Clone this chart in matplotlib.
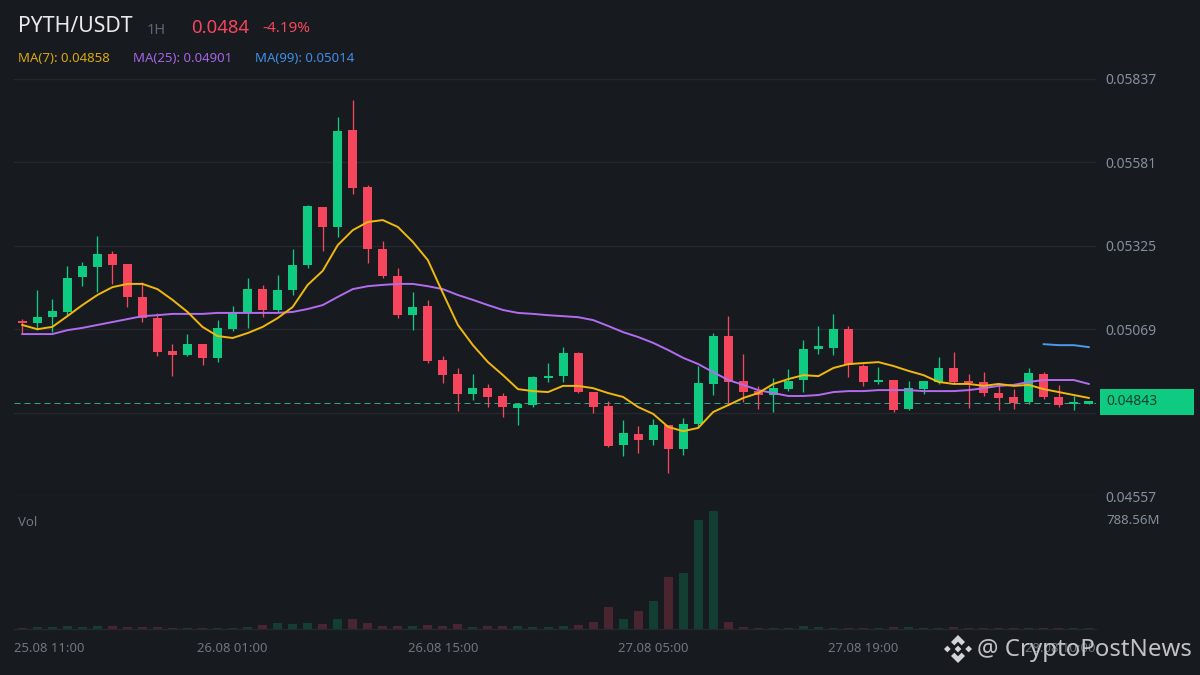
"""PYTH/USDT 1H candlestick chart with moving averages and volume"""
import matplotlib
matplotlib.use('Agg')  # Use non-GUI backend
import matplotlib.pyplot as plt
from matplotlib.patches import Polygon, Rectangle

opens = [0.05094, 0.05088, 0.05106, 0.05122, 0.05229, 0.05260, 0.05300, 0.05269, 0.05168, 0.05103, 0.05002, 0.04990,
         0.05023, 0.04981, 0.05069, 0.05119, 0.05192, 0.05128, 0.05189, 0.05266, 0.05444, 0.05383, 0.05680, 0.05505,
         0.05315, 0.05232, 0.05112, 0.05140, 0.04974, 0.04931, 0.04870, 0.04888, 0.04864, 0.04827, 0.04836, 0.04919,
         0.04925, 0.04996, 0.04876, 0.04833, 0.04713, 0.04747, 0.04729, 0.04775, 0.04701, 0.04778, 0.04901, 0.05048,
         0.04910, 0.04879, 0.04867, 0.04885, 0.04913, 0.05008, 0.05011, 0.05069, 0.04956, 0.04907, 0.04913, 0.04824,
         0.04885, 0.04907, 0.04950, 0.04910, 0.04907, 0.04873, 0.04861, 0.04845, 0.04931, 0.04861, 0.04839, 0.04839]
highs = [0.05100, 0.05189, 0.05162, 0.05263, 0.05275, 0.05355, 0.05309, 0.05269, 0.05214, 0.05119, 0.05023, 0.05054,
         0.05023, 0.05097, 0.05140, 0.05226, 0.05205, 0.05235, 0.05315, 0.05450, 0.05444, 0.05720, 0.05773, 0.05511,
         0.05340, 0.05257, 0.05183, 0.05159, 0.04987, 0.04950, 0.04931, 0.04901, 0.04873, 0.04842, 0.04925, 0.04965,
         0.05014, 0.04999, 0.04876, 0.04848, 0.04790, 0.04772, 0.04793, 0.04775, 0.04796, 0.04956, 0.05057, 0.05109,
         0.04993, 0.04895, 0.04919, 0.04947, 0.05036, 0.05079, 0.05116, 0.05079, 0.04962, 0.04953, 0.04913, 0.04910,
         0.04910, 0.04984, 0.04999, 0.04931, 0.04937, 0.04898, 0.04885, 0.04950, 0.04937, 0.04898, 0.04864, 0.04848]
lows = [0.05054, 0.05066, 0.05060, 0.05112, 0.05201, 0.05183, 0.05208, 0.05137, 0.05091, 0.04987, 0.04925, 0.04987,
        0.04959, 0.04968, 0.05063, 0.05073, 0.05106, 0.05122, 0.05174, 0.05257, 0.05309, 0.05352, 0.05484, 0.05272,
        0.05226, 0.05103, 0.05066, 0.04965, 0.04904, 0.04818, 0.04852, 0.04830, 0.04799, 0.04775, 0.04830, 0.04907,
        0.04907, 0.04873, 0.04812, 0.04707, 0.04680, 0.04689, 0.04713, 0.04627, 0.04683, 0.04769, 0.04867, 0.04839,
        0.04845, 0.04824, 0.04815, 0.04879, 0.04876, 0.04993, 0.04990, 0.04922, 0.04895, 0.04901, 0.04815, 0.04821,
        0.04870, 0.04901, 0.04901, 0.04827, 0.04864, 0.04821, 0.04824, 0.04839, 0.04855, 0.04830, 0.04821, 0.04839]
closes = [0.05088, 0.05106, 0.05125, 0.05226, 0.05263, 0.05300, 0.05266, 0.05168, 0.05103, 0.04999, 0.04990, 0.05023,
          0.04981, 0.05073, 0.05119, 0.05192, 0.05128, 0.05189, 0.05266, 0.05447, 0.05383, 0.05677, 0.05502, 0.05315,
          0.05232, 0.05112, 0.05137, 0.04971, 0.04928, 0.04870, 0.04888, 0.04861, 0.04830, 0.04839, 0.04922, 0.04925,
          0.04996, 0.04876, 0.04830, 0.04710, 0.04750, 0.04729, 0.04775, 0.04701, 0.04778, 0.04904, 0.05048, 0.04907,
          0.04876, 0.04867, 0.04888, 0.04910, 0.05008, 0.05017, 0.05069, 0.04959, 0.04907, 0.04913, 0.04821, 0.04888,
          0.04910, 0.04950, 0.04907, 0.04904, 0.04873, 0.04858, 0.04842, 0.04934, 0.04861, 0.04836, 0.04845, 0.04848]
volumes = [9, 15, 15, 22, 15, 22, 22, 15, 15, 15, 9, 9,
           9, 9, 9, 15, 29, 42, 35, 42, 35, 69, 69, 42,
           22, 22, 22, 29, 22, 35, 15, 22, 22, 22, 15, 15,
           22, 29, 49, 149, 69, 122, 189, 349, 376, 730, 788.56, 49,
           15, 9, 7, 7, 22, 15, 9, 9, 9, 9, 15, 15,
           9, 9, 15, 9, 9, 9, 9, 9, 9, 9, 9, 9]

ma7 = [0.05082, 0.05069, 0.05076, 0.05109, 0.05143, 0.05174, 0.05198, 0.05208, 0.05208, 0.05192, 0.05159, 0.05122,
       0.05076, 0.05048, 0.05042, 0.05057, 0.05076, 0.05103, 0.05137, 0.05205, 0.05248, 0.05327, 0.05373, 0.05398,
       0.05404, 0.05383, 0.05337, 0.05281, 0.05180, 0.05082, 0.05020, 0.04968, 0.04928, 0.04885, 0.04879, 0.04876,
       0.04895, 0.04895, 0.04888, 0.04873, 0.04861, 0.04830, 0.04809, 0.04769, 0.04756, 0.04766, 0.04815, 0.04836,
       0.04858, 0.04873, 0.04901, 0.04916, 0.04928, 0.04925, 0.04950, 0.04962, 0.04965, 0.04968, 0.04956, 0.04941,
       0.04928, 0.04907, 0.04901, 0.04901, 0.04895, 0.04901, 0.04895, 0.04898, 0.04885, 0.04876, 0.04867, 0.04858]
ma25 = [0.05054, 0.05054, 0.05054, 0.05066, 0.05073, 0.05082, 0.05091, 0.05100, 0.05109, 0.05112, 0.05116, 0.05116,
        0.05116, 0.05119, 0.05119, 0.05119, 0.05119, 0.05119, 0.05122, 0.05131, 0.05143, 0.05168, 0.05192, 0.05201,
        0.05205, 0.05208, 0.05208, 0.05201, 0.05192, 0.05174, 0.05159, 0.05143, 0.05128, 0.05119, 0.05116, 0.05112,
        0.05109, 0.05106, 0.05097, 0.05079, 0.05060, 0.05045, 0.05027, 0.05005, 0.04981, 0.04962, 0.04937, 0.04913,
        0.04898, 0.04882, 0.04873, 0.04864, 0.04864, 0.04867, 0.04876, 0.04879, 0.04879, 0.04882, 0.04882, 0.04882,
        0.04879, 0.04879, 0.04879, 0.04882, 0.04888, 0.04895, 0.04898, 0.04907, 0.04913, 0.04913, 0.04913, 0.04901]
ma99 = [0.05023, 0.05020, 0.05020, 0.05014]
ma99_idx = [68, 69, 70, 71]

price_ticks = [0.05837, 0.05581, 0.05325, 0.05069, 0.04813, 0.04557]
price_labels = ['0.05837', '0.05581', '0.05325', '0.05069', '', '0.04557']
last_price = 0.04843
date_ticks = [-0.55, 14, 28, 42, 56, 71.45]
date_labels = ['25.08 11:00', '26.08 01:00', '26.08 15:00', '27.08 05:00', '27.08 19:00', '28.08 10:00']

BG = '#171a1f'
GRID = '#25282e'
UP = '#0ecb81'
DOWN = '#f6465d'
UP_VOL = '#123f31'
DOWN_VOL = '#4a2530'
MUTED = '#848e9c'
FONT = 'Noto Sans'
W, H = 1200, 675

plt.rcParams['font.family'] = [FONT, 'DejaVu Sans']


def fx(x):
    return x / W


def fy(y):
    return 1 - y / H


def logo(fig, cx, cy, r, color):
    # Binance mark: three small diamonds and two chevrons
    d = 0.24
    shapes = [
        [(0, -d), (d, 0), (0, d), (-d, 0)],
        [(-0.76, -d), (-0.76 + d, 0), (-0.76, d), (-0.76 - d, 0)],
        [(0.76, -d), (0.76 + d, 0), (0.76, d), (0.76 - d, 0)],
        [(0, -1), (0.5, -0.5), (0.26, -0.26), (0, -0.52), (-0.26, -0.26), (-0.5, -0.5)],
        [(0, 1), (0.5, 0.5), (0.26, 0.26), (0, 0.52), (-0.26, 0.26), (-0.5, 0.5)],
    ]
    for shape in shapes:
        pts = [(fx(cx + px * r), fy(cy + py * r)) for px, py in shape]
        fig.add_artist(Polygon(pts, closed=True, transform=fig.transFigure, facecolor=color, edgecolor='none'))


fig = plt.figure(figsize=(W / 100, H / 100), dpi=100, facecolor=BG)
ax = fig.add_axes([fx(14), fy(496), fx(1096 - 14), fy(79) - fy(496)], facecolor='none')
vol_ax = fig.add_axes([fx(14), fy(629), fx(1096 - 14), fy(511) - fy(629)], facecolor='none', sharex=ax)

idx = list(range(len(closes)))
colors = [UP if c >= o else DOWN for o, c in zip(opens, closes)]

ax.vlines(idx, lows, highs, colors=colors, linewidth=0.95, zorder=3)
ax.bar(idx, [abs(c - o) for o, c in zip(opens, closes)], bottom=[min(o, c) for o, c in zip(opens, closes)],
       width=0.6, color=colors, linewidth=0, zorder=3)

ax.plot(idx, ma25, color='#b26cf0', linewidth=1.4, zorder=4)
ax.plot(idx, ma7, color='#f0b90b', linewidth=1.4, zorder=5)
ax.plot(ma99_idx, ma99, color='#4a9af0', linewidth=1.4, zorder=4)
ax.axhline(last_price, color='#2fa57f', linewidth=0.72, linestyle=(0, (6, 4)), zorder=2)

ax.set_xlim(-0.55, 71.48)
ax.set_ylim(0.04557, 0.05837)
ax.set_yticks(price_ticks, price_labels)
ax.yaxis.tick_right()
ax.tick_params(axis='y', length=0, pad=7, labelsize=10, labelcolor=MUTED)
ax.tick_params(axis='x', length=0, labelbottom=False)
ax.grid(axis='y', color=GRID, linewidth=1, zorder=1)
ax.grid(axis='x', visible=False)
for spine in ax.spines.values():
    spine.set_visible(False)

vol_colors = [UP_VOL if c >= o else DOWN_VOL for o, c in zip(opens, closes)]
vol_ax.bar(idx, volumes, width=0.6, color=vol_colors, linewidth=0)
vol_ax.set_ylim(0, 788.56)
vol_ax.set_yticks([])
vol_ax.set_xticks(date_ticks, date_labels)
vol_ax.tick_params(axis='x', length=0, pad=9.5, labelsize=9.4, labelcolor='#6f7680')
tick_labels = vol_ax.get_xticklabels()
tick_labels[0].set_ha('left')
tick_labels[-1].set_ha('right')
for side in ['top', 'left', 'right']:
    vol_ax.spines[side].set_visible(False)
vol_ax.spines['bottom'].set_color(GRID)
vol_ax.spines['bottom'].set_linewidth(1)

# Header
fig.text(fx(18), fy(27), 'PYTH/USDT', color='#e8eaed', fontsize=15.3, va='center')
fig.text(fx(147), fy(30), '1H', color='#5e6673', fontsize=10.5, va='center')
fig.text(fx(191), fy(28), '0.0484', color=DOWN, fontsize=13.4, va='center')
fig.text(fx(262), fy(29), '-4.19%', color=DOWN, fontsize=11, va='center')
fig.text(fx(18), fy(58), 'MA(7): 0.04858', color='#d9a80f', fontsize=9.5, va='center')
fig.text(fx(133), fy(58), 'MA(25): 0.04901', color='#a564e6', fontsize=9.5, va='center')
fig.text(fx(255), fy(58), 'MA(99): 0.05014', color='#3f8fe8', fontsize=9.5, va='center')
fig.text(fx(18), fy(523), 'Vol', color='#6f7680', fontsize=9.5, va='center')
fig.text(fx(1106), fy(520), '788.56M', color=MUTED, fontsize=9.5, va='center')

# Last price tag
fig.add_artist(Rectangle((fx(1100), fy(415)), fx(94), fy(389) - fy(415), transform=fig.transFigure,
                         facecolor=UP, edgecolor='none'))
fig.text(fx(1106), fy(402), '0.04843', color='#0b3f2e', fontsize=10, va='center')

# Watermark
logo(fig, 958, 649, 14, '#d2d4d7')
fig.text(fx(977), fy(650), '@ CryptoPostNews', color='#d2d4d7', fontsize=17.3, va='center', alpha=0.9)

fig.savefig('out.png', dpi=100, facecolor=BG)
plt.close(fig)
